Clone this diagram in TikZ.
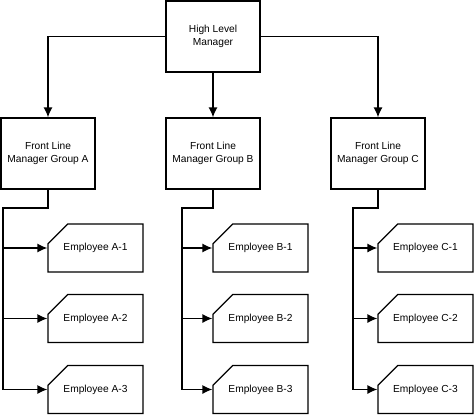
\documentclass[tikz,border=0pt]{standalone}
\usepackage{fontspec}
\setmainfont{Liberation Sans}
\usetikzlibrary{arrows.meta,shapes.misc}

\tikzset{
  mgrbox/.style={draw,rectangle,minimum width=94pt,minimum height=71pt,align=center,
    font=\fontsize{10.2}{12.6}\selectfont},
  empbox/.style={draw,chamfered rectangle,chamfered rectangle corners=north west,
    chamfered rectangle sep=15pt,minimum width=95pt,minimum height=48pt,inner sep=0pt,
    font=\fontsize{10.2}{12.6}\selectfont},
  link/.style={-{Latex[length=10pt,width=9pt]}}
}

\begin{document}
\begin{tikzpicture}[x=1pt,y=-1pt,line width=1.25pt]
\useasboundingbox[fill=white] (0,0) rectangle (474,415);

\node[mgrbox] (hlm) at (213,36.5) {High Level\\Manager};

\begin{scope}
  \node[mgrbox] (ga) at (48,153.5) {Front Line\\Manager Group A};
  \node[empbox] (ea1) at (95.5,248) {Employee A-1};
  \node[empbox] (ea2) at (95.5,318.5) {Employee A-2};
  \node[empbox] (ea3) at (95.5,389.5) {Employee A-3};
  \coordinate (ta) at (3,208);
  \draw[link] (ga.south) |- (ta) -- (ta |- ea3.west) -- (ea3.west);
  \draw[link] (ta |- ea1.west) -- (ea1.west);
  \draw[link] (ta |- ea2.west) -- (ea2.west);
\end{scope}

\begin{scope}[xshift=165pt]
  \node[mgrbox] (gb) at (48,153.5) {Front Line\\Manager Group B};
  \node[empbox] (eb1) at (95.5,248) {Employee B-1};
  \node[empbox] (eb2) at (95.5,318.5) {Employee B-2};
  \node[empbox] (eb3) at (95.5,389.5) {Employee B-3};
  \coordinate (tb) at (17,208);
  \draw[link] (gb.south) |- (tb) -- (tb |- eb3.west) -- (eb3.west);
  \draw[link] (tb |- eb1.west) -- (eb1.west);
  \draw[link] (tb |- eb2.west) -- (eb2.west);
\end{scope}

\begin{scope}[xshift=330pt]
  \node[mgrbox] (gc) at (48,153.5) {Front Line\\Manager Group C};
  \node[empbox] (ec1) at (95.5,248) {Employee C-1};
  \node[empbox] (ec2) at (95.5,318.5) {Employee C-2};
  \node[empbox] (ec3) at (95.5,389.5) {Employee C-3};
  \coordinate (tc) at (23,208);
  \draw[link] (gc.south) |- (tc) -- (tc |- ec3.west) -- (ec3.west);
  \draw[link] (tc |- ec1.west) -- (ec1.west);
  \draw[link] (tc |- ec2.west) -- (ec2.west);
\end{scope}

\draw[link] (hlm.west) -| (ga.north);
\draw[link] (hlm.south) -- (gb.north);
\draw[link] (hlm.east) -| (gc.north);
\end{tikzpicture}
\end{document}
